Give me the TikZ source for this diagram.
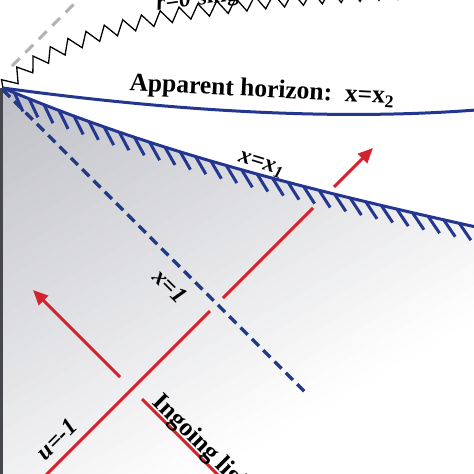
\documentclass[tikz,border=0pt]{standalone}
\usepackage{fontspec}
\setmainfont{Liberation Serif}
\usetikzlibrary{
    arrows.meta,
    decorations.pathmorphing,
    decorations.markings,
}
\definecolor{hblue}{RGB}{35,55,145}
\definecolor{dblue}{RGB}{30,60,135}
\definecolor{raycol}{RGB}{212,35,45}
\definecolor{shadegray}{RGB}{190,191,198}
\definecolor{axisgray}{RGB}{70,70,76}
\tikzset{
    horizon/.style={hblue, line width=3pt},
    hatched/.style={horizon, postaction={decorate, decoration={markings,
        mark=between positions 0.025 and 0.995 step 16pt with
        {\draw[hblue, line width=3pt] (0pt,0pt) -- (15pt,-14pt);}}}},
    lightray/.style={raycol, line width=3pt},
    rayarrow/.style={lightray, -{Triangle[length=15pt,width=13pt]}},
    singular/.style={black, line width=1.3pt, decorate,
        decoration={zigzag, segment length=19pt, amplitude=7pt}},
    lbl/.style={font=\fontsize{24}{28}\selectfont\bfseries\itshape, inner sep=0pt},
    txt/.style={font=\fontsize{25.5}{30}\selectfont\bfseries, inner sep=0pt},
}

\begin{document}
\begin{tikzpicture}[x=1pt, y=-1pt]
    \useasboundingbox (0,0) rectangle (474,474);
    \clip (0,0) rectangle (474,474);

    % corner where the horizons and the singularity meet
    \coordinate (O) at (3,88);
    \coordinate (H1) at (476,227);
    \coordinate (H2) at (476,110);

    % shaded region under x=x1, faded in bands
    \begin{scope}
        \clip (O) .. controls (150,150) and (300,188) .. (H1)
            -- (476,476) -- (0,476) -- (0,88) -- cycle;
        \begin{scope}[rotate around={-60:(0,88)}]
            \foreach \i in {0,...,55} {
                \pgfmathtruncatemacro\amt{max(0,100-2.3*\i)}
                \fill[shadegray!\amt!white] (10*\i-2,-900) rectangle (10*\i+11,900);
            }
        \end{scope}
    \end{scope}
    \draw[axisgray, line width=3pt] (1.5,88) -- (1.5,476);

    % singularity and null boundary
    \draw[singular] (O) .. controls (70,22) and (220,-5) .. (480,-10);
    \coordinate (G1) at (12,66);
    \coordinate (G2) at (84,-6);
    \draw[gray!60, line width=3pt, dash pattern=on 11pt off 8pt] (G1) -- (G2);
    \node[lbl, rotate=8, anchor=base west] (sing) at (157,11) {r=0 \upshape singularity};

    % horizons
    \draw[horizon] (O) .. controls (150,108) and (320,122) .. (H2);
    \node[txt, rotate=-3] (ah) at (262,91) {Apparent horizon:\ \ x=x\textsubscript{2}};
    \draw[hatched] (O) .. controls (150,150) and (300,188) .. (H1);
    \node[lbl, rotate=-17] (xx1) at (261,165) {x=x\textsubscript{1}};

    % x=1
    \coordinate (X1) at (3,90);
    \coordinate (X2) at (305,392);
    \draw[dblue, line width=3.5pt, dash pattern=on 10pt off 6pt] (X1) -- (X2);
    \node[lbl, rotate=-45] (xeq) at (170,286) {x=1};

    % outgoing ray u=-1
    \coordinate (A) at (45,476);
    \coordinate (B1) at (210,311);
    \coordinate (B2) at (223,298);
    \coordinate (C) at (313,208);
    \coordinate (D) at (334,187);
    \coordinate (E) at (373,148);
    \draw[lightray] (A) -- (B1);
    \draw[lightray] (B2) -- (C);
    \draw[rayarrow] (D) -- (E);
    \node[lbl, rotate=45] (ueq) at (57,439) {u=-1};

    % ingoing ray
    \coordinate (F) at (33,290);
    \coordinate (G) at (120,377);
    \coordinate (I1) at (142,399);
    \coordinate (I2) at (219,476);
    \draw[rayarrow] (G) -- (F);
    \draw[lightray] (I1) -- (I2);
    \node[txt, rotate=-45, anchor=base west] (ingo) at (151,403) {Ingoing light};
\end{tikzpicture}
\end{document}
